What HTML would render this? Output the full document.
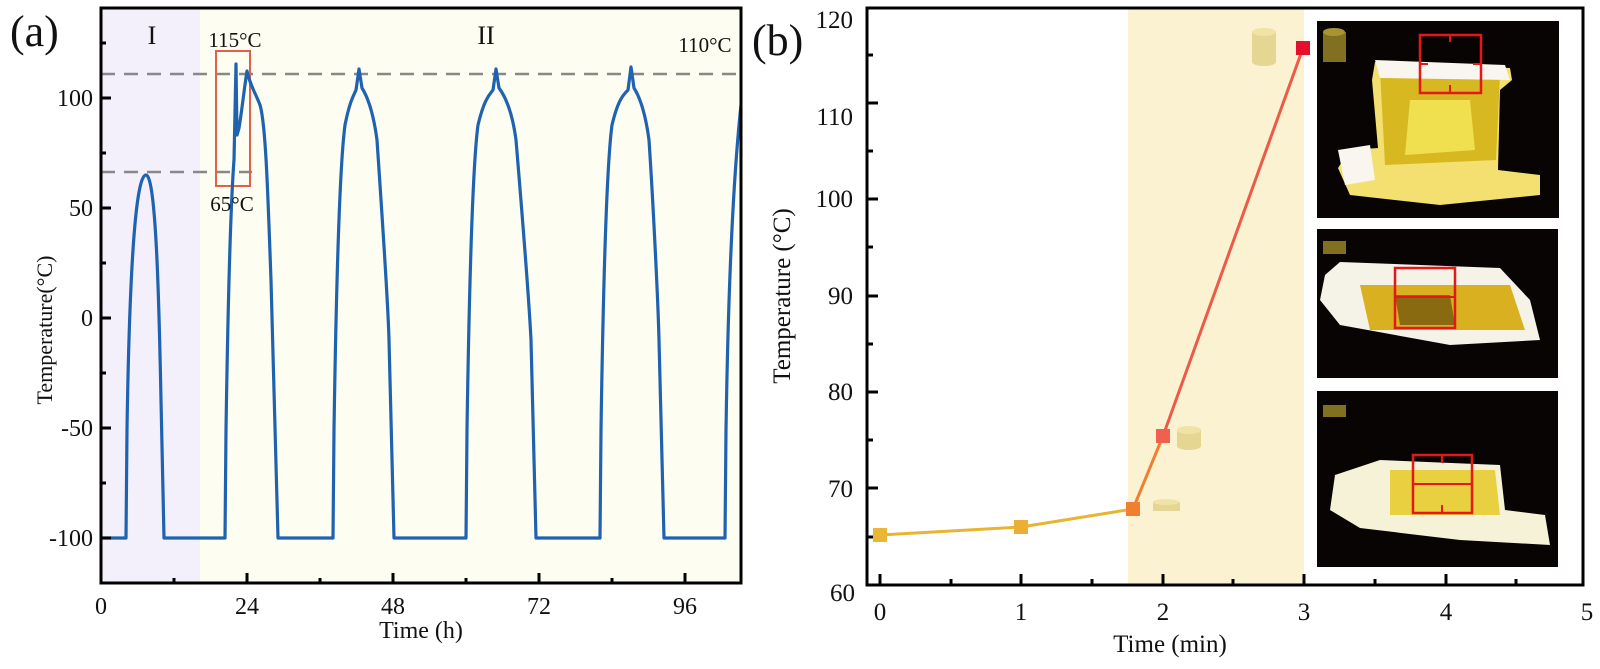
<!DOCTYPE html>
<html><head><meta charset="utf-8"><style>
html,body{margin:0;padding:0;background:#fff;}
svg{display:block;font-family:"Liberation Serif",serif;}
</style></head><body>
<svg width="1600" height="669" viewBox="0 0 1600 669" xmlns="http://www.w3.org/2000/svg">
<!-- Panel a -->
<rect x="101" y="8" width="99" height="575" fill="#f3f0fc"/>
<rect x="200" y="8" width="541" height="575" fill="#fefdf1"/>
<g stroke="#888" stroke-width="2.5" stroke-dasharray="14,9" fill="none">
<line x1="101" y1="74" x2="741" y2="74"/>
<line x1="101" y1="172" x2="252" y2="172"/>
</g>
<rect x="216" y="51" width="34" height="135" fill="none" stroke="#e0604a" stroke-width="2"/>
<g fill="none" stroke="#1f62b0" stroke-width="3.2" stroke-linejoin="round">
<path d="M101,538 L126,538 L127,430 C129,300 134,175 146,175 C156,175 159,300 161,400 L164,538 L225,538 L226,430 C228,300 231,200 234,160 L236,64 L237,135 L239,128 C242,110 244,90 247,71 C250,85 255,92 260,105 C266,125 268,200 271,280 L278,538
L333,538 L334,430 C336,300 339,170 345,125 C350,100 354,95 356,90 L359,69 L362,88 C367,96 373,110 377,140 C381,200 388,300 389,340 L394,538
L466,538 L467,430 C469,300 472,170 478,125 C484,100 489,95 493,90 L496,69 L499,88 C505,96 512,110 516,140 C521,200 529,300 531,340 L536,538
L600,538 L601,430 C603,300 606,170 612,125 C618,100 623,95 628,90 L631,67 L634,88 C639,96 645,110 649,140 C653,200 658,300 659,340 L664,538
L725,538 L726,430 C728,300 733,180 741,105"/>
</g>
<rect x="101" y="8" width="640" height="575" fill="none" stroke="#000" stroke-width="3"/>
<g stroke="#000" stroke-width="3">
<line x1="101" y1="98" x2="111" y2="98"/><line x1="101" y1="208" x2="111" y2="208"/><line x1="101" y1="318" x2="111" y2="318"/><line x1="101" y1="428" x2="111" y2="428"/><line x1="101" y1="538" x2="111" y2="538"/>
<line x1="101" y1="43" x2="106" y2="43"/><line x1="101" y1="153" x2="106" y2="153"/><line x1="101" y1="263" x2="106" y2="263"/><line x1="101" y1="373" x2="106" y2="373"/><line x1="101" y1="483" x2="106" y2="483"/>
<line x1="247" y1="583" x2="247" y2="573"/><line x1="393" y1="583" x2="393" y2="573"/><line x1="539" y1="583" x2="539" y2="573"/><line x1="685" y1="583" x2="685" y2="573"/>
<line x1="174" y1="583" x2="174" y2="578"/><line x1="320" y1="583" x2="320" y2="578"/><line x1="466" y1="583" x2="466" y2="578"/><line x1="612" y1="583" x2="612" y2="578"/>
</g>
<g font-size="24" fill="#111" text-anchor="end">
<text x="93" y="106">100</text><text x="93" y="216">50</text><text x="93" y="326">0</text><text x="93" y="436">-50</text><text x="93" y="546">-100</text>
</g>
<g font-size="24" fill="#111" text-anchor="middle">
<text x="101" y="614">0</text><text x="247" y="614">24</text><text x="393" y="614">48</text><text x="539" y="614">72</text><text x="685" y="614">96</text>
<text x="421" y="638">Time (h)</text>
<text x="152" y="44" font-size="26">I</text><text x="486" y="44" font-size="26">II</text>
<text x="235" y="47" font-size="21">115°C</text><text x="232" y="211" font-size="21">65°C</text>
<text x="705" y="52" font-size="21">110°C</text>
</g>
<text transform="translate(52,330) rotate(-90)" font-size="22" text-anchor="middle" fill="#111">Temperature(°C)</text>
<text x="10" y="46" font-size="44" fill="#111">(a)</text>

<!-- Panel b -->
<rect x="1128" y="8" width="176" height="577" fill="#fbf2d2"/>
<g fill="none" stroke-width="3">
<polyline points="880,535 1021,527 1133,509" stroke="#e8b432"/>
<line x1="1133" y1="509" x2="1163" y2="436" stroke="#f08030"/>
<line x1="1163" y1="436" x2="1303" y2="48" stroke="#ee5a48"/>
</g>
<rect x="873" y="528" width="14" height="14" fill="#e9b733"/>
<rect x="1014" y="520" width="14" height="14" fill="#ebb033"/>
<rect x="1126" y="502" width="14" height="14" fill="#f08030"/>
<rect x="1156" y="429" width="14" height="14" fill="#f06050"/>
<rect x="1296" y="41" width="14" height="14" fill="#e4102c"/>
<!-- cylinders -->
<g fill="#e5d793" stroke="none">
<rect x="1252" y="32" width="24" height="30"/><ellipse cx="1264" cy="32" rx="12" ry="4" fill="#efe3a6"/><ellipse cx="1264" cy="62" rx="12" ry="4"/>
<rect x="1177" y="430" width="24" height="16"/><ellipse cx="1189" cy="430" rx="12" ry="4" fill="#efe3a6"/><ellipse cx="1189" cy="446" rx="12" ry="4"/>
<rect x="1153" y="502" width="27" height="9"/><ellipse cx="1166" cy="502" rx="13" ry="3" fill="#efe3a6"/>
</g>
<!-- photos -->
<g>
<rect x="1317" y="21" width="242" height="197" fill="#080404"/>
<polygon points="1375,62 1510,68 1512,80 1500,90 1498,170 1540,175 1540,195 1440,205 1350,195 1338,168 1350,150 1378,148 1372,80" fill="#f3e070"/>
<polygon points="1380,70 1500,75 1496,160 1385,165" fill="#d8b820"/>
<polygon points="1375,60 1505,65 1510,80 1380,78" fill="#f8f6ee"/>
<polygon points="1338,150 1370,145 1375,180 1345,185" fill="#f8f6ee"/>
<polygon points="1410,100 1470,100 1475,150 1405,155" fill="#f0e050"/>
<rect x="1420" y="35" width="61" height="58" fill="none" stroke="#e41818" stroke-width="2.5"/>
<line x1="1450" y1="35" x2="1450" y2="42" stroke="#e41818" stroke-width="2"/><line x1="1420" y1="64" x2="1428" y2="64" stroke="#e41818" stroke-width="2"/><line x1="1481" y1="64" x2="1473" y2="64" stroke="#e41818" stroke-width="2"/><line x1="1450" y1="93" x2="1450" y2="85" stroke="#e41818" stroke-width="2"/>
<rect x="1323" y="32" width="23" height="30" fill="#807020"/><ellipse cx="1334" cy="32" rx="11" ry="4" fill="#a89430"/>

<rect x="1317" y="229" width="241" height="149" fill="#080404"/>
<polygon points="1340,262 1500,268 1530,300 1540,340 1450,345 1340,325 1320,300 1325,275" fill="#f5f2e8"/>
<polygon points="1360,285 1510,285 1525,330 1370,330" fill="#d8b020"/>
<polygon points="1395,295 1450,295 1455,325 1400,325" fill="#8a6a10"/>
<rect x="1395" y="268" width="60" height="60" fill="none" stroke="#e41818" stroke-width="2.5"/>
<line x1="1395" y1="297" x2="1455" y2="297" stroke="#e41818" stroke-width="2"/>
<rect x="1323" y="241" width="23" height="13" fill="#807020"/>

<rect x="1317" y="391" width="241" height="176" fill="#080404"/>
<polygon points="1335,475 1380,460 1500,465 1505,510 1545,515 1550,545 1460,540 1360,528 1330,510" fill="#f6f2d8"/>
<polygon points="1390,470 1495,470 1500,515 1390,515" fill="#e8d040"/>
<rect x="1413" y="455" width="59" height="58" fill="none" stroke="#e41818" stroke-width="2.5"/>
<line x1="1413" y1="484" x2="1472" y2="484" stroke="#e41818" stroke-width="2"/><line x1="1442" y1="455" x2="1442" y2="463" stroke="#e41818" stroke-width="2"/><line x1="1442" y1="513" x2="1442" y2="505" stroke="#e41818" stroke-width="2"/>
<rect x="1323" y="405" width="23" height="12" fill="#807020"/>
</g>
<rect x="867" y="8" width="716" height="577" fill="none" stroke="#000" stroke-width="3"/>
<g stroke="#000" stroke-width="3">
<line x1="867" y1="103" x2="878" y2="103"/><line x1="867" y1="199" x2="878" y2="199"/><line x1="867" y1="296" x2="878" y2="296"/><line x1="867" y1="392" x2="878" y2="392"/><line x1="867" y1="488" x2="878" y2="488"/>
<line x1="867" y1="55" x2="873" y2="55"/><line x1="867" y1="151" x2="873" y2="151"/><line x1="867" y1="247" x2="873" y2="247"/><line x1="867" y1="344" x2="873" y2="344"/><line x1="867" y1="440" x2="873" y2="440"/><line x1="867" y1="537" x2="873" y2="537"/>
<line x1="880" y1="585" x2="880" y2="574"/><line x1="1021" y1="585" x2="1021" y2="574"/><line x1="1163" y1="585" x2="1163" y2="574"/><line x1="1304" y1="585" x2="1304" y2="574"/><line x1="1446" y1="585" x2="1446" y2="574"/>
<line x1="951" y1="585" x2="951" y2="579"/><line x1="1092" y1="585" x2="1092" y2="579"/><line x1="1233" y1="585" x2="1233" y2="579"/><line x1="1375" y1="585" x2="1375" y2="579"/><line x1="1516" y1="585" x2="1516" y2="579"/>
</g>
<g font-size="25" fill="#111" text-anchor="end">
<text x="853" y="28">120</text><text x="853" y="125">110</text><text x="853" y="207">100</text><text x="853" y="304">90</text><text x="853" y="400">80</text><text x="853" y="497">70</text><text x="855" y="601">60</text>
</g>
<g font-size="25" fill="#111" text-anchor="middle">
<text x="880" y="620">0</text><text x="1021" y="620">1</text><text x="1163" y="620">2</text><text x="1304" y="620">3</text><text x="1446" y="620">4</text><text x="1587" y="620">5</text>
<text x="1170" y="652">Time (min)</text>
</g>
<text transform="translate(790,296) rotate(-90)" font-size="25" text-anchor="middle" fill="#111">Temperature (°C)</text>
<text x="752" y="55" font-size="44" fill="#111">(b)</text>
</svg>
</body></html>
